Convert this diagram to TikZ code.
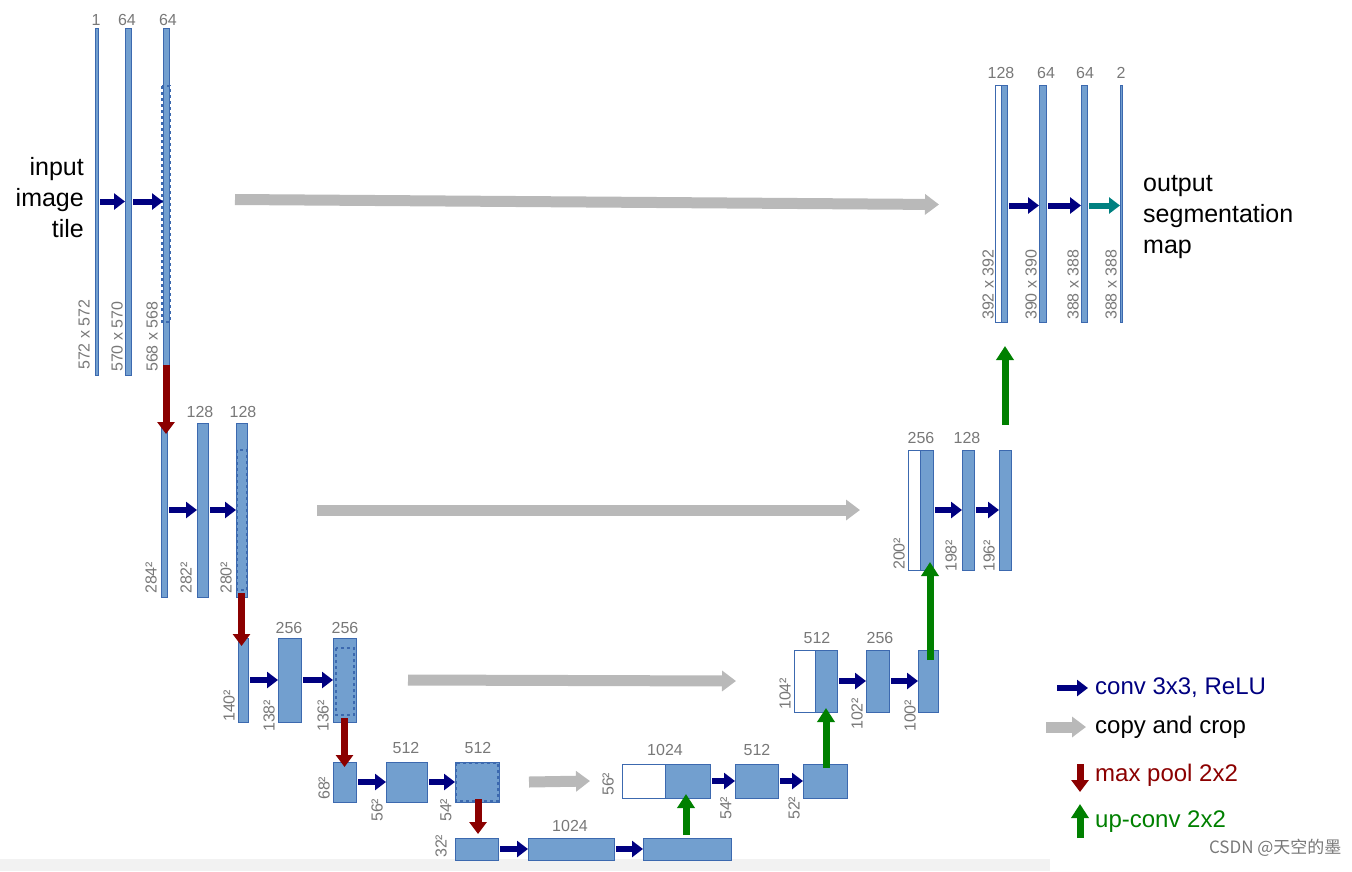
\documentclass[tikz,border=0pt]{standalone}
\usepackage{fontspec}
\setmainfont{Liberation Sans}
\newfontfamily\cjk{Noto Sans CJK SC}
\usetikzlibrary{arrows.meta}
\definecolor{bfill}{RGB}{114,159,207}
\definecolor{bdraw}{RGB}{60,105,175}
\definecolor{navy}{RGB}{0,0,128}
\definecolor{dred}{RGB}{139,0,0}
\definecolor{dgreen}{RGB}{0,128,0}
\definecolor{teal2}{RGB}{0,128,128}
\definecolor{cgray}{RGB}{185,185,185}
\definecolor{lgray}{RGB}{120,120,120}
\tikzset{
 bar/.style={draw=bdraw,fill=bfill,line width=1pt,inner sep=0pt,outer sep=0pt},
 wbar/.style={bar,fill=white},
 conv/.style={navy,line width=6pt,-{Triangle[length=11pt,width=16pt]},shorten <=2pt},
 fin/.style={conv,teal2},
 copy/.style={cgray,line width=11pt,-{Triangle[length=14pt,width=20pt]}},
 pool/.style={dred,line width=7pt,-{Triangle[length=12pt,width=17pt]}},
 up/.style={dgreen,line width=7pt,-{Triangle[length=14pt,width=17pt]}},
 num/.style={lgray,font=\fontsize{16}{16}\selectfont,inner sep=0pt},
 dim/.style={num,rotate=90,anchor=west},
 leg/.style={font=\fontsize{24}{24}\selectfont,anchor=west,inner sep=0pt},
 txt/.style={font=\fontsize{25}{31}\selectfont,align=left,inner sep=0pt}
}
\newcommand\blk[6][bar]{\node[#1,anchor=north west,minimum width={(#4-#2)*1pt},minimum height={(#5-#3)*1pt}] (#6) at (#2,#3) {};}
\begin{document}
\begin{tikzpicture}[x=1pt,y=-1pt]
\useasboundingbox (0,0) rectangle (1352,871);
\fill[gray!10] (0,859) rectangle (1050,871);
% level 1
\blk{95}{28}{98}{375}{a1}
\blk{125}{28}{131}{375}{a2}
\blk{163}{28}{169}{375}{a3}
\draw[bdraw,dashed,line width=1.2pt] (162,86) rectangle (170,322);
\node[num] at (96,20) {1};
\node[num] at (127,20) {64};
\node[num] at (168,20) {64};
\node[dim] at (84,370) {572 x 572};
\node[dim] at (117,372) {570 x 570};
\node[dim] at (152,372) {568 x 568};
\draw[conv] (a1.east) -- (a2.west);
\draw[conv] (a2.east) -- (a3.west);
\node[txt,align=right,anchor=east] (inp) at (84,198) {input\\image\\tile};
% level 2
\blk{161}{423}{167}{597}{b1}
\blk{197}{423}{208}{597}{b2}
\blk{236}{423}{247}{597}{b3}
\draw[bdraw,dashed,line width=1.2pt] (237,450) rectangle (247,590);
\node[num] at (200,412) {128};
\node[num] at (243,412) {128};
\node[dim] at (151,594) {284²};
\node[dim] at (186,594) {282²};
\node[dim] at (226,594) {280²};
\draw[conv] (b1.east) -- (b2.west);
\draw[conv] (b2.east) -- (b3.west);
\draw[pool] ([yshift=10]a3.south) -- ([yshift=-11]b1.north-|a3.south);
% level 3
\blk{238}{638}{248}{722}{c1}
\blk{278}{638}{301}{722}{c2}
\blk{333}{638}{356}{722}{c3}
\draw[bdraw,dashed,line width=1.2pt] (336,648) rectangle (354,715);
\node[num] at (289,628) {256};
\node[num] at (345,628) {256};
\node[dim] at (229,722) {140²};
\node[dim] at (269,732) {138²};
\node[dim] at (323,732) {136²};
\draw[conv] (c1.east) -- (c2.west);
\draw[conv] (c2.east) -- (c3.west);
\draw[pool] ([yshift=4]b3.south) -- ([yshift=-8]c1.north-|b3.south);
% level 4
\blk{333}{762}{356}{802}{d1}
\blk{386}{762}{427}{802}{d2}
\blk{455}{762}{499}{802}{d3}
\draw[bdraw,dashed,line width=1.5pt] (456,763) rectangle (498,801);
\node[num] at (406,748) {512};
\node[num] at (478,748) {512};
\node[dim] at (324,800) {68²};
\node[dim] at (377,822) {56²};
\node[dim] at (446,822) {54²};
\draw[conv] (d1.east) -- (d2.west);
\draw[conv] (d2.east) -- (d3.west);
\draw[pool] ([yshift=4]c3.south) -- ([yshift=-5]d1.north-|c3.south);
% level 5
\blk{455}{838}{498}{860}{e1}
\blk{528}{838}{614}{860}{e2}
\blk{643}{838}{731}{860}{e3}
\node[num] at (570,826) {1024};
\node[dim] at (441,858) {32²};
\draw[conv] (e1.east) -- (e2.west);
\draw[conv] (e2.east) -- (e3.west);
\draw[pool] ([yshift=3]d3.south-|478,0) -- (478,834);
% right level 4
\blk[wbar]{622}{764}{665}{798}{f0}
\blk{665}{764}{710}{798}{f1}
\blk{735}{764}{778}{798}{f2}
\blk{803}{764}{847}{798}{f3}
\node[num] at (665,750) {1024};
\node[num] at (757,750) {512};
\node[dim] at (608,796) {56²};
\node[dim] at (726,820) {54²};
\node[dim] at (794,820) {52²};
\draw[conv] (f1.east) -- (f2.west);
\draw[conv] (f2.east) -- (f3.west);
\draw[up] (686,835) -- ([yshift=4]f1.south-|686,0);
\draw[copy] ([xshift=30]d3.east) -- ([xshift=-32]f0.west);
% right level 3
\blk[wbar]{794}{650}{815}{712}{g0}
\blk{815}{650}{837}{712}{g1}
\blk{866}{650}{889}{712}{g2}
\blk{918}{650}{938}{712}{g3}
\node[num] at (817,638) {512};
\node[num] at (880,638) {256};
\node[dim] at (785,710) {104²};
\node[dim] at (857,730) {102²};
\node[dim] at (910,732) {100²};
\draw[conv] (g1.east) -- (g2.west);
\draw[conv] (g2.east) -- (g3.west);
\draw[up] ([yshift=-4]f3.north-|826,0) -- ([yshift=4]g1.south-|826,0);
\draw[copy] ([xshift=52]c3.east) -- ([xshift=-58]g0.west);
% right level 2
\blk[wbar]{908}{450}{920}{570}{h0}
\blk{920}{450}{933}{570}{h1}
\blk{962}{450}{974}{570}{h2}
\blk{999}{450}{1011}{570}{h3}
\node[num] at (921,438) {256};
\node[num] at (967,438) {128};
\node[dim] at (899,570) {200²};
\node[dim] at (951,572) {198²};
\node[dim] at (989,572) {196²};
\draw[conv] (h1.east) -- (h2.west);
\draw[conv] (h2.east) -- (h3.west);
\draw[up] ([yshift=-10]g3.north-|930,0) -- ([yshift=8]h1.south-|930,0);
\draw[copy] ([xshift=70]b3.east) -- ([xshift=-48]h0.west);
% right level 1
\blk[wbar]{995}{85}{1001}{322}{o0}
\blk{1001}{85}{1007}{322}{o1}
\blk{1039}{85}{1046}{322}{o2}
\blk{1081}{85}{1087}{322}{o3}
\blk{1120}{85}{1122}{322}{o4}
\node[num] at (1001,73) {128};
\node[num] at (1046,73) {64};
\node[num] at (1085,73) {64};
\node[num] at (1121,73) {2};
\node[dim] at (988,320) {392 x 392};
\node[dim] at (1031,320) {390 x 390};
\node[dim] at (1073,320) {388 x 388};
\node[dim] at (1111,320) {388 x 388};
\draw[conv] ([yshift=-2]o1.east) -- ([yshift=-2]o2.west);
\draw[conv] ([yshift=-2]o2.east) -- ([yshift=-2]o3.west);
\draw[fin] ([yshift=-2]o3.east) -- ([yshift=-2]o4.west);
\draw[up] (1005,425) -- (1005,346);
\draw[copy] ([xshift=66,yshift=2]a3.east) -- ([xshift=-56,yshift=-1]o0.west);
\node[txt,anchor=west] (outp) at (1143,217) {output\\segmentation\\map};
% legend
\coordinate (l1) at (1055,688); \coordinate (l1e) at (1088,688);
\draw[conv] (l1) -- (l1e);
\node[leg,navy] (t1) at (1095,688) {conv 3x3, ReLU};
\coordinate (l2) at (1046,727); \coordinate (l2e) at (1086,727);
\draw[copy] (l2) -- (l2e);
\node[leg] (t2) at (1095,727) {copy and crop};
\coordinate (l3) at (1080,764); \coordinate (l3e) at (1080,792);
\draw[pool] (l3) -- (l3e);
\node[leg,dred] (t3) at (1095,775) {max pool 2x2};
\coordinate (l4) at (1080,838); \coordinate (l4e) at (1080,804);
\draw[up] (l4) -- (l4e);
\node[leg,dgreen] (t4) at (1095,822) {up-conv 2x2};
\node[lgray,anchor=east,font=\fontsize{17}{17}\cjk] (wm) at (1345,848) {CSDN @天空的墨};
\end{tikzpicture}
\end{document}
